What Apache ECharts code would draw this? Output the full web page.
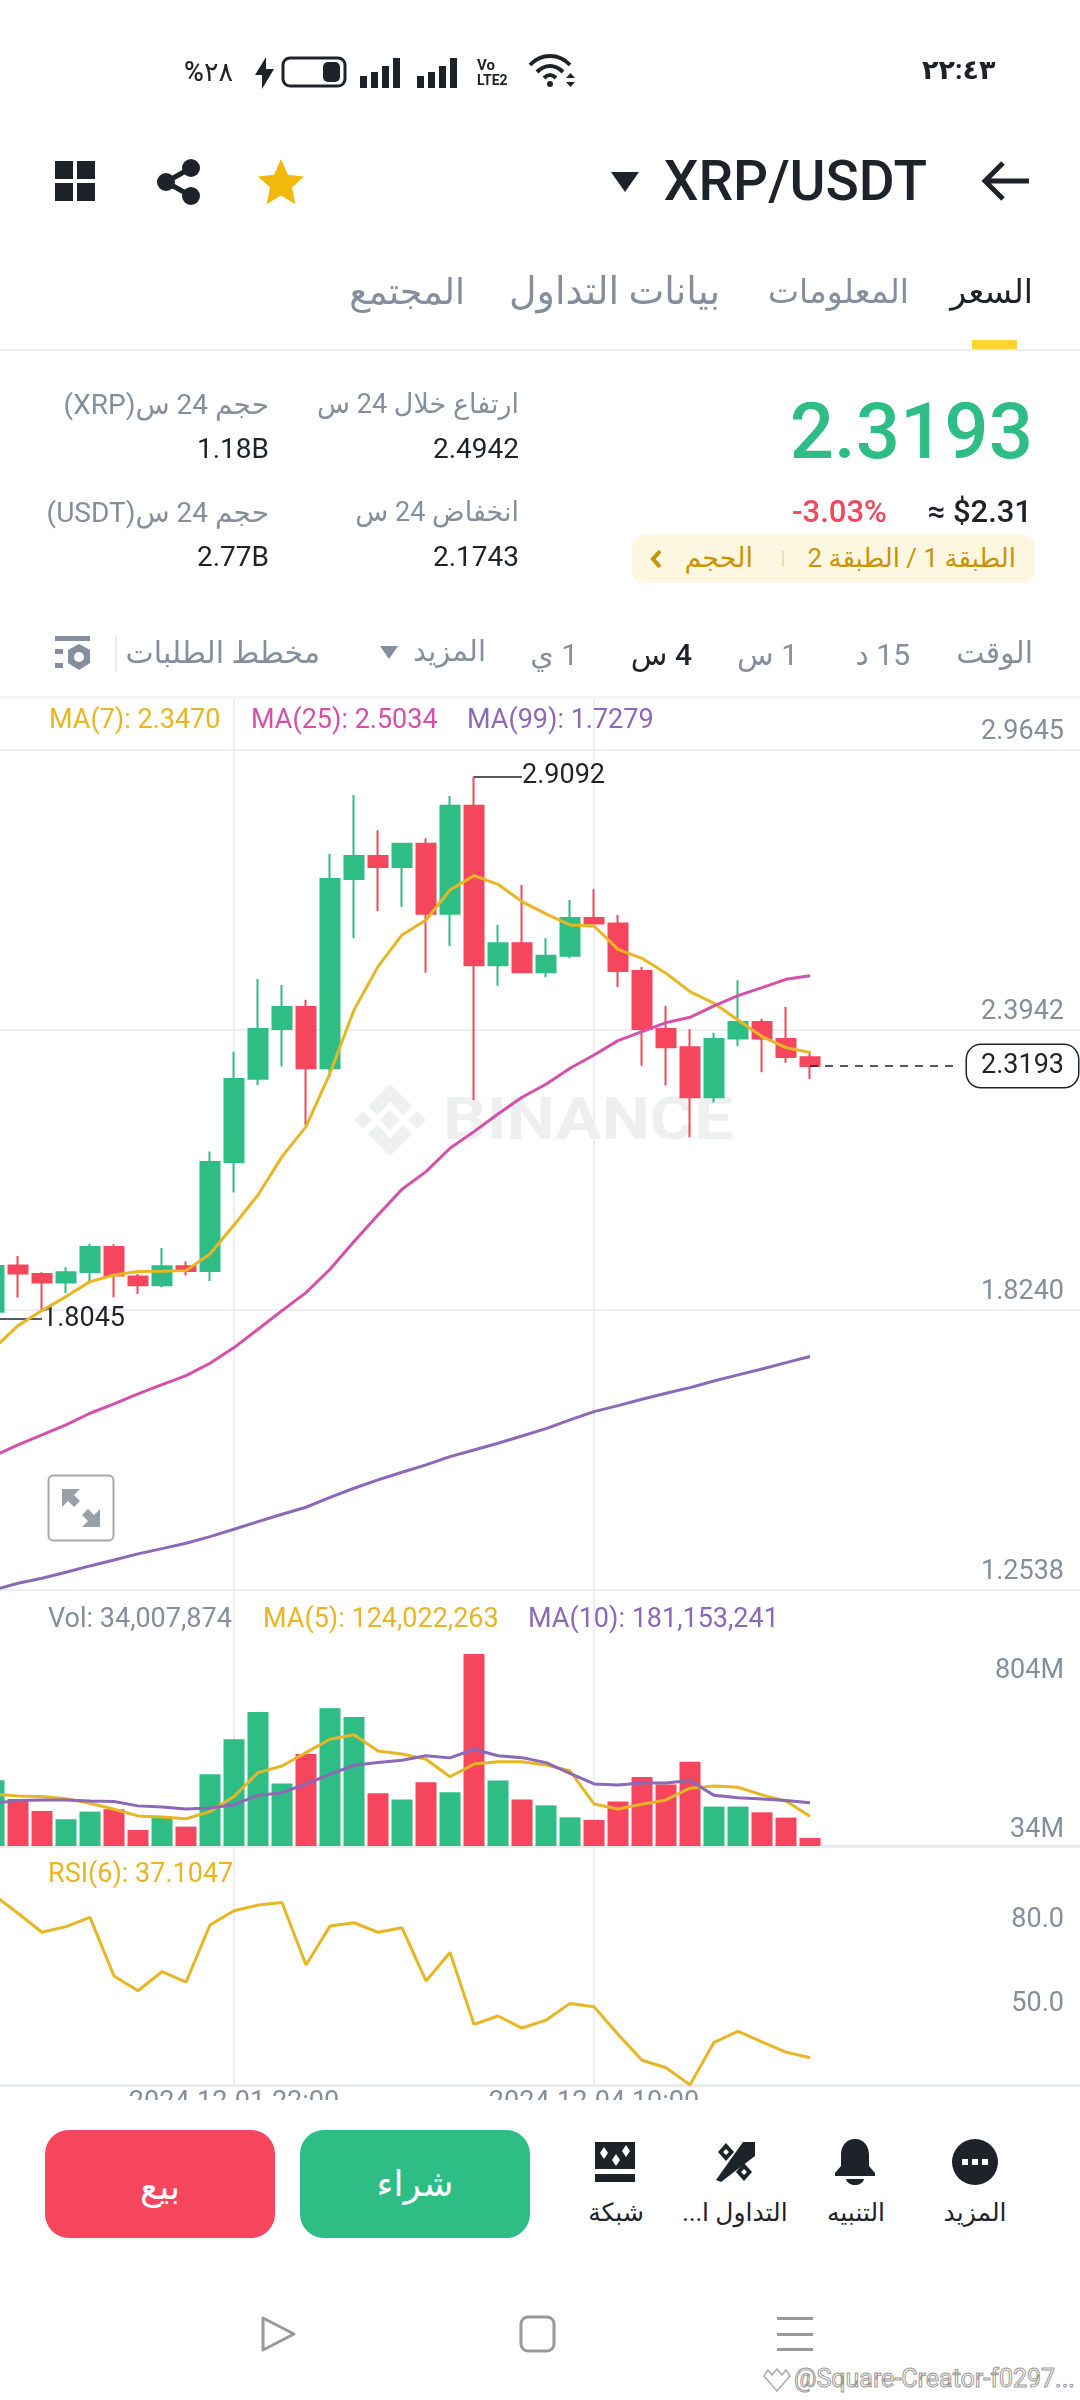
<!DOCTYPE html>
<html lang="ar">
<head>
<meta charset="utf-8">
<title>XRP/USDT</title>
<script src="https://cdn.jsdelivr.net/npm/echarts@6/dist/echarts.min.js"></script>
<style>
html,body{margin:0;padding:0;background:#fff;}
#app{position:relative;width:1080px;height:2400px;overflow:hidden;font-family:Roboto,"DejaVu Sans",sans-serif;color:#1E2329;}
#chart{position:absolute;left:0;top:0;width:1080px;height:2400px;}
.t{position:absolute;transform:translateY(-50%);white-space:nowrap;line-height:1.3;}
.c{transform:translate(-50%,-50%);}
.g{color:#848E9C;}
.r{direction:rtl;}
.box{position:absolute;}
svg{position:absolute;display:block;}
</style>
</head>
<body>
<div id="app">
<div id="chart"></div>

<!-- 状态栏 -->
<bdo dir="ltr" class="t" style="left:184px;top:73px;font-size:27px;font-weight:500;">%٢٨</bdo>
<svg style="left:252px;top:57px" width="24" height="32" viewBox="0 0 24 32"><path d="M14 0v12h8L10 32V18H3z" fill="#1E2329"/></svg>
<svg style="left:280px;top:55px" width="68" height="34" viewBox="0 0 68 34"><rect x="3" y="3" width="62" height="28" rx="7" fill="none" stroke="#1E2329" stroke-width="3"/><rect x="43" y="7" width="17" height="20" rx="5" fill="#1E2329"/></svg>
<svg style="left:360px;top:58px" width="104" height="30" viewBox="0 0 104 30" fill="#1E2329"><rect x="0" y="18" width="7" height="12"/><rect x="11" y="14" width="7" height="16"/><rect x="22" y="8" width="7" height="22"/><rect x="33" y="0" width="7" height="30"/><rect x="57" y="18" width="7" height="12"/><rect x="68" y="14" width="7" height="16"/><rect x="79" y="8" width="7" height="22"/><rect x="90" y="0" width="7" height="30"/></svg>
<div class="t" style="left:477px;top:66px;font-size:15px;font-weight:700;">Vo</div>
<div class="t" style="left:477px;top:80px;font-size:14px;font-weight:700;">LTE2</div>
<svg style="left:528px;top:53px" width="48" height="36" viewBox="0 0 48 36" fill="none" stroke="#1E2329" stroke-width="4"><path d="M2 12C13 0 31 0 42 12"/><path d="M9 19C17 11 27 11 35 19"/><path d="M16 25C20 21 24 21 28 25"/><circle cx="22" cy="31" r="3" fill="#1E2329" stroke="none"/><path d="M38 25h9l-4.500-5zM38 29h9l-4.500 5z" fill="#1E2329" stroke="none"/></svg>
<bdo dir="ltr" class="t" style="left:922px;top:71px;font-size:27px;font-weight:700;">٢٢:٤٣</bdo>

<!-- 顶部导航 -->
<svg style="left:981px;top:160px" width="50" height="42" viewBox="0 0 50 42" fill="none" stroke="#1E2329" stroke-width="5"><path d="M48 21H4M22 3L4 21l18 18"/></svg>
<div class="t" style="right:153px;top:182px;font-size:55px;font-weight:500;">XRP/USDT</div>
<svg style="left:611px;top:172px" width="28" height="20" viewBox="0 0 28 20"><path d="M0 0h28L14 20z" fill="#1E2329"/></svg>
<svg style="left:258px;top:159px" width="46" height="46" viewBox="0 0 24 24"><path d="M12 0l3.600 8.200 8.400.9-6.300 5.800 1.800 8.700L12 19.100 4.500 23.600l1.800-8.700L0 9.100l8.400-.9z" fill="#F0B90B"/></svg>
<svg style="left:156px;top:159px" width="46" height="46" viewBox="0 0 46 46" fill="#1E2329"><circle cx="35" cy="9" r="9"/><circle cx="35" cy="37" r="9"/><circle cx="10" cy="23" r="9"/><path d="M10 23L35 9M10 23l25 14" stroke="#1E2329" stroke-width="5"/></svg>
<svg style="left:55px;top:161px" width="40" height="40" viewBox="0 0 40 40" fill="#1E2329"><rect width="18" height="18"/><rect x="22" width="18" height="18"/><rect y="22" width="18" height="18"/><rect x="22" y="22" width="18" height="18"/></svg>

<!-- 标签页 -->
<div class="t r" style="right:47px;top:292px;font-size:33px;">السعر</div>
<div class="t r g" style="right:171px;top:292px;font-size:33px;">المعلومات</div>
<div class="t r g" style="right:360px;top:292px;font-size:38px;">بيانات التداول</div>
<div class="t r g" style="right:615px;top:292px;font-size:36px;">المجتمع</div>
<div class="box" style="left:972px;top:340px;width:45px;height:9px;background:#FCD535;"></div>
<div class="box" style="left:0;top:349px;width:1080px;height:2px;background:#EAECEF;"></div>

<!-- 行情 -->
<div class="t" style="right:47px;top:432px;font-size:78px;font-weight:500;color:#2EBD85;">2.3193</div>
<div class="t" style="left:792px;top:512px;font-size:31px;font-weight:500;color:#F6465D;">-3.03%</div>
<div class="t" style="right:48px;top:512px;font-size:31px;font-weight:500;">≈ $2.31</div>
<div class="box" style="left:632px;top:535px;width:403px;height:48px;border-radius:12px;background:#FDF6E0;"></div>
<div class="t r" style="right:64px;top:559px;font-size:26px;color:#C99400;">الطبقة 1 / الطبقة 2</div>
<div class="box" style="left:782px;top:551px;width:2px;height:16px;background:#EADFB8;"></div>
<div class="t r" style="right:327px;top:559px;font-size:27px;color:#C99400;">الحجم</div>
<svg style="left:650px;top:549px" width="12" height="20" viewBox="0 0 12 20" fill="none" stroke="#C99400" stroke-width="4"><path d="M10 2L3 10l7 8"/></svg>

<div class="t r g" style="right:561px;top:405px;font-size:27px;">ارتفاع خلال 24 س</div>
<div class="t" style="right:561px;top:449px;font-size:28px;">2.4942</div>
<div class="t r g" style="right:561px;top:513px;font-size:27px;">انخفاض 24 س</div>
<div class="t" style="right:561px;top:557px;font-size:28px;">2.1743</div>
<div class="t r g" style="right:811px;top:405px;font-size:28px;">حجم 24 س(XRP)</div>
<div class="t" style="right:811px;top:449px;font-size:28px;">1.18B</div>
<div class="t r g" style="right:811px;top:513px;font-size:28px;">حجم 24 س(USDT)</div>
<div class="t" style="right:811px;top:557px;font-size:28px;">2.77B</div>

<!-- 周期 -->
<div class="t r g" style="right:47px;top:652px;font-size:30px;">الوقت</div>
<div class="t r g" style="right:170px;top:654px;font-size:30px;">15 د</div>
<div class="t r g" style="right:282px;top:654px;font-size:30px;">1 س</div>
<div class="t r" style="right:388px;top:654px;font-size:30px;font-weight:500;">4 س</div>
<div class="t r g" style="right:502px;top:654px;font-size:30px;">1 ي</div>
<div class="t r g" style="right:594px;top:652px;font-size:29px;">المزيد</div>
<svg style="left:380px;top:646px" width="18" height="13" viewBox="0 0 18 13"><path d="M0 0h18L9 13z" fill="#848E9C"/></svg>
<div class="t r g" style="right:760px;top:652px;font-size:30px;">مخطط الطلبات</div>
<div class="box" style="left:115px;top:636px;width:2px;height:36px;background:#EAECEF;"></div>
<svg style="left:54px;top:635px" width="38" height="38" viewBox="0 0 38 38" fill="#848E9C"><rect x="1" y="1" width="35" height="5"/><rect x="1" y="14" width="8" height="5"/><rect x="1" y="28" width="8" height="5"/><path d="M25 9l11 6v13l-11 7-11-7V15z"/><circle cx="25" cy="22" r="5" fill="#fff"/></svg>
<div class="box" style="left:0;top:696px;width:1080px;height:3px;background:#F5F5F5;"></div>

<!-- 放大按钮 -->
<svg style="left:47px;top:1474px" width="68" height="68" viewBox="0 0 68 68"><rect x="1.500" y="1.500" width="65" height="65" rx="5" fill="#fff" stroke="#A3A9B2" stroke-width="2"/><path d="M15 15h18l-6 6 6 6-6 6-6-6-6 6zM53 53H35l6-6-6-6 6-6 6 6 6-6z" fill="#9AA0A8"/></svg>

<!-- 底部 -->
<div class="box" style="left:0;top:2100px;width:1080px;height:300px;background:#fff;"></div>
<div class="box" style="left:45px;top:2130px;width:230px;height:108px;border-radius:24px;background:#F6465D;"></div>
<div class="t c r" style="left:160px;top:2187px;font-size:36px;font-weight:500;color:#fff;">بيع</div>
<div class="box" style="left:300px;top:2130px;width:230px;height:108px;border-radius:24px;background:#2EBD85;"></div>
<div class="t c r" style="left:415px;top:2184px;font-size:36px;font-weight:500;color:#fff;">شراء</div>

<svg style="left:595px;top:2142px" width="40" height="40" viewBox="0 0 40 40" fill="#1E2329"><path d="M0 0h40v27H0z"/><rect y="32" width="40" height="8"/><path d="M9 5l4 6-4 6-4-6zM21 12l4 6-4 6-4-6zM31 3l4 6-4 6-4-6z" fill="#fff"/></svg>
<svg style="left:715px;top:2142px" width="40" height="40" viewBox="0 0 40 40" fill="#1E2329"><path d="M40 0v14L6 40l-5-2 27-38z"/><path d="M11 1l8 9-8 9-8-9zM29 21l8 9-8 9-8-9z"/><path d="M11 7l3 3-3 3-3-3zM29 27l3 3-3 3-3-3z" fill="#fff"/></svg>
<svg style="left:835px;top:2139px" width="40" height="46" viewBox="0 0 40 46" fill="#1E2329"><path d="M20 0c9 0 14 7 14 16v11l6 7v3H0v-3l6-7V16C6 7 11 0 20 0z"/><path d="M11 40h18c-1 4-5 6-9 6s-8-2-9-6z"/></svg>
<svg style="left:952px;top:2139px" width="46" height="46" viewBox="0 0 46 46"><circle cx="23" cy="23" r="23" fill="#1E2329"/><rect x="10" y="20" width="6" height="6" fill="#fff"/><rect x="20" y="20" width="6" height="6" fill="#fff"/><rect x="30" y="20" width="6" height="6" fill="#fff"/></svg>
<div class="t c r" style="left:975px;top:2213px;font-size:25px;">المزيد</div>
<div class="t c r" style="left:856px;top:2213px;font-size:25px;">التنبيه</div>
<div class="t c r" style="left:735px;top:2213px;font-size:25px;">التداول ا...</div>
<div class="t c r" style="left:616px;top:2213px;font-size:25px;">شبكة</div>

<svg style="left:260px;top:2315px" width="38" height="38" viewBox="0 0 38 38" fill="none" stroke="#999" stroke-width="3" stroke-linejoin="round"><path d="M3 3l31 16L3 35z"/></svg>
<svg style="left:519px;top:2315px" width="37" height="38" viewBox="0 0 37 38" fill="none" stroke="#999" stroke-width="3"><rect x="2" y="2" width="33" height="34" rx="7"/></svg>
<svg style="left:777px;top:2315px" width="36" height="38" viewBox="0 0 36 38" fill="#999"><rect y="2" width="36" height="3"/><rect y="18" width="36" height="3"/><rect y="33" width="36" height="3"/></svg>
<svg style="left:763px;top:2368px" width="28" height="24" viewBox="0 0 28 24" fill="none" stroke="#aaa" stroke-width="1.500"><path d="M1 8l4-6 4 5 5-6 5 6 4-5 4 6-13 15z"/></svg>
<div class="t" style="left:794px;top:2379px;font-size:25px;color:#fff;-webkit-text-stroke:1px #9a9a9a;">@Square-Creator-f0297...</div>
</div>

<script>
// 时间轴：4 小时一根，右侧留空
var timeLabels = ['','','','','','','','','','','2024-12-01 22:00','','','','','','','','','','','','','','','2024-12-04 10:00','','','','','','','','','','','','','','','','','','','',''];
// K 线
var opens = [1.8193,1.9130,1.8960,1.8784,1.9001,1.9510,1.8906,1.8730,1.9117,1.9022,2.1241,2.2938,2.3950,2.4398,2.3149,2.7004,2.7473,2.7249,2.7724,2.6298,2.8498,2.5246,2.5694,2.5104,2.5443,2.6210,2.6095,2.5131,2.3950,2.3576,2.2558,2.3753,2.4092,2.3746,2.3373];
var closes = [1.9123,1.8967,1.8784,1.8995,1.9510,1.8927,1.8730,1.9117,1.9022,2.1241,2.2932,2.3950,2.4398,2.3149,2.7004,2.7473,2.7249,2.7724,2.6298,2.8498,2.5246,2.5694,2.5104,2.5443,2.6210,2.6095,2.5131,2.3950,2.3576,2.2558,2.3746,2.4092,2.3753,2.3380,2.3193];
var lows = [1.8045,1.8479,1.8214,1.8567,1.8784,1.8485,1.8553,1.8689,1.8927,1.8818,2.0617,2.2809,2.3183,2.1995,2.2979,2.5796,2.6353,2.6441,2.5097,2.5640,2.2504,2.4832,2.5090,2.5002,2.5389,2.6081,2.4805,2.3203,2.2796,2.1743,2.2450,2.3604,2.3067,2.3264,2.2932];
var highs = [1.9191,1.9327,1.8995,1.9096,1.9572,1.9565,1.8960,1.9490,1.9212,2.1452,2.3488,2.4968,2.4846,2.4547,2.7514,2.8715,2.7995,2.7744,2.7833,2.8695,2.9092,2.6068,2.6882,2.5796,2.6577,2.6794,2.6271,2.5212,2.4418,2.3943,2.3875,2.4942,2.4160,2.4398,2.3502];
var ma7 = [1.7447,1.7908,1.8214,1.8499,1.8804,1.8940,1.9008,1.9015,1.9028,1.9368,1.9958,2.0569,2.1350,2.1961,2.3047,2.4337,2.5219,2.5864,2.6170,2.6780,2.7072,2.6896,2.6543,2.6292,2.6068,2.6047,2.5572,2.5389,2.5083,2.4710,2.4473,2.4133,2.3794,2.3570,2.3470];
var ma25 = [1.5254,1.5478,1.5682,1.5886,1.6123,1.6313,1.6517,1.6707,1.6890,1.7141,1.7460,1.7834,1.8214,1.8580,1.9056,1.9619,2.0162,2.0685,2.1044,2.1520,2.1859,2.2219,2.2558,2.2823,2.3149,2.3420,2.3712,2.3895,2.4079,2.4187,2.4418,2.4629,2.4791,2.4961,2.5034];
var ma99 = [1.2525,1.2661,1.2763,1.2885,1.3014,1.3136,1.3259,1.3367,1.3476,1.3611,1.3761,1.3917,1.4066,1.4209,1.4412,1.4596,1.4765,1.4922,1.5071,1.5241,1.5376,1.5512,1.5661,1.5811,1.5987,1.6157,1.6279,1.6408,1.6530,1.6646,1.6781,1.6904,1.7026,1.7155,1.7279];
// 成交量（百万）
var volumes = [275,197,147,112,144,154,67,123,81,300,447,561,262,385,577,540,221,195,267,225,804,274,195,170,120,109,186,289,258,353,165,165,141,119,34];
var volMa5 = [218,209,207,198,179,154,126,121,114,144,207,307,335,391,447,466,398,385,363,290,343,353,353,339,315,176,155,175,193,242,251,246,214,188,124];
var volMa10 = [179,190,193,193,188,186,168,163,155,159,173,212,223,260,300,338,350,359,378,369,405,378,370,349,304,260,255,264,264,274,212,202,197,191,181];
var rsi6 = [95.2,88.7,81.9,83.9,87.2,66.3,61.0,67.8,64.1,84.5,89.6,91.6,92.5,70.2,84.1,85.3,81.9,83.5,64.5,74.7,49.0,52.0,47.7,50.5,56.5,55.3,45.5,36.2,33.5,27.4,42.6,46.5,42.8,39.1,37.1047];
// 坐标轴刻度
var priceTicks = [1.2538,1.8240,2.3942,2.9645];
var volBottomTicks = [34];
var volTopTicks = [804];
var rsiTicks = [50,80];

var GREEN = '#2EBD85', RED = '#F6465D', YELLOW = '#E8B624', PINK = '#D64FA9', PURPLE = '#8B68B8';
var GRID_LINE = '#ECEEF4', AXIS_TEXT = '#848E9C', DARK = '#1E2329';
var LEFT = -18, CHART_W = 1104;
var lastClose = closes[closes.length - 1];

var candleData = opens.map(function (o, i) {
    return [o, closes[i], lows[i], highs[i]];
});

function isGridIndex(i) {
    return i === 10 || i === 25;
}

// 三个面板共用的 x 轴
function makeXAxis(gridIndex, showLine, showLabel) {
    return {
        type: 'category',
        gridIndex: gridIndex,
        data: timeLabels,
        axisLine: {show: showLine, onZero: false, lineStyle: {color: '#E9EBF1', width: 3}},
        axisTick: {show: false},
        axisLabel: {
            show: showLabel, interval: isGridIndex, margin: 5,
            color: AXIS_TEXT, fontSize: 27, fontFamily: 'Roboto', hideOverlap: false
        },
        splitLine: {show: true, interval: isGridIndex, alignWithLabel: true, lineStyle: {color: GRID_LINE, width: 2}}
    };
}

function makeYAxis(gridIndex, min, max, ticks, label, fmt, withLines) {
    return {
        type: 'value',
        gridIndex: gridIndex,
        position: 'right',
        min: min,
        max: max,
        axisLine: {show: false},
        axisTick: {show: false, customValues: ticks},
        axisLabel: Object.assign({
            inside: true, margin: 22, customValues: ticks,
            color: AXIS_TEXT, fontSize: 27, fontFamily: 'Roboto', formatter: fmt
        }, label),
        splitLine: {show: withLines, lineStyle: {color: GRID_LINE, width: 2}}
    };
}

function maLine(name, data, color, xi, yi) {
    return {
        name: name, type: 'line', data: data, xAxisIndex: xi, yAxisIndex: yi,
        symbol: 'none', smooth: false, z: 5, lineStyle: {color: color, width: 3}
    };
}

// 最高/最低/现价的引线
function priceMark(fromIdx, toIdx, price, label, dashed) {
    var lbl = {
        show: true, position: 'end', distance: dashed ? 13 : 0, formatter: label,
        color: DARK, fontSize: 27, fontFamily: 'Roboto'
    };
    if (dashed) {
        lbl.backgroundColor = '#fff';
        lbl.borderColor = DARK;
        lbl.borderWidth = 1.5;
        lbl.borderRadius = 14;
        lbl.padding = [8, 14, 7, 14];
    }
    return [
        {coord: [fromIdx, price], label: lbl,
            lineStyle: {color: DARK, width: 1.5, type: dashed ? [8, 7] : 'solid'}},
        {coord: [toIdx, price]}
    ];
}

function legendText(x, y, text, color, size) {
    return {
        type: 'text', x: x, y: y, silent: true, z: 6,
        style: {text: text, fill: color, font: size + 'px Roboto', verticalAlign: 'middle'}
    };
}

// 水印
var logoCx = 390, logoCy = 1120, WM = '#EEF0F0';
function wmPoly(points) {
    return {
        type: 'polygon', x: logoCx, y: logoCy, silent: true, z: 1,
        shape: {points: points}, style: {fill: WM}
    };
}

function priceFmt(v) { return v.toFixed(4); }
function volFmt(v) { return v + 'M'; }
function rsiFmt(v) { return v.toFixed(1); }

var option = {
    animation: false,
    backgroundColor: 'transparent',
    grid: [
        {left: LEFT, width: CHART_W, top: 698, height: 902, outerBoundsMode: 'none'},
        {left: LEFT, width: CHART_W, top: 1600, height: 246, outerBoundsMode: 'none'},
        {left: LEFT, width: CHART_W, top: 1846, height: 239, outerBoundsMode: 'none'}
    ],
    xAxis: [makeXAxis(0, false, false), makeXAxis(1, true, false), makeXAxis(2, true, true)],
    yAxis: [
        makeYAxis(0, 1.2320, 3.0690, priceTicks, {verticalAlign: 'bottom', padding: [0, 0, 4, 0]}, priceFmt, true),
        makeYAxis(1, 0, 1030, volBottomTicks, {verticalAlign: 'bottom', lineHeight: 16}, volFmt, false),
        makeYAxis(1, 0, 1030, volTopTicks, {verticalAlign: 'top', padding: [4, 0, 0, 0]}, volFmt, false),
        makeYAxis(2, 27.36, 112.7, rsiTicks, {verticalAlign: 'bottom', padding: [0, 0, 4, 0]}, rsiFmt, false)
    ],
    series: [
        {
            name: 'K', type: 'candlestick', data: candleData, xAxisIndex: 0, yAxisIndex: 0,
            barWidth: 19, z: 3,
            itemStyle: {color: GREEN, color0: RED, borderColor: GREEN, borderColor0: RED, borderWidth: 2},
            markLine: {
                silent: true, symbol: 'none', animation: false,
                data: [
                    priceMark(20, 22, 2.9092, '2.9092', false),
                    priceMark(0, 2, 1.8045, '1.8045', false),
                    priceMark(34, 40, lastClose, lastClose.toFixed(4), true)
                ]
            }
        },
        maLine('MA7', ma7, YELLOW, 0, 0),
        maLine('MA25', ma25, PINK, 0, 0),
        maLine('MA99', ma99, PURPLE, 0, 0),
        {
            name: 'Vol', type: 'bar', data: volumes, xAxisIndex: 1, yAxisIndex: 1, barWidth: 21, z: 3,
            itemStyle: {
                color: function (p) {
                    return closes[p.dataIndex] >= opens[p.dataIndex] ? GREEN : RED;
                }
            }
        },
        maLine('VolMA5', volMa5, YELLOW, 1, 1),
        maLine('VolMA10', volMa10, PURPLE, 1, 1),
        maLine('RSI6', rsi6, YELLOW, 2, 3)
    ],
    graphic: [
        wmPoly([[0, -36], [22, -14], [13, -5], [0, -18], [-13, -5], [-22, -14]]),
        wmPoly([[0, 36], [22, 14], [13, 5], [0, 18], [-13, 5], [-22, 14]]),
        wmPoly([[0, -10], [10, 0], [0, 10], [-10, 0]]),
        wmPoly([[-36, 0], [-27, -9], [-18, 0], [-27, 9]]),
        wmPoly([[36, 0], [27, -9], [18, 0], [27, 9]]),
        {
            type: 'text', x: 443, y: 1124, scaleX: 1.14, silent: true, z: 1,
            style: {text: 'BINANCE', fill: WM, font: 'bold 60px Roboto', verticalAlign: 'middle'}
        },
        legendText(49, 721, 'MA(7): 2.3470', YELLOW, 27),
        legendText(251, 721, 'MA(25): 2.5034', PINK, 27),
        legendText(467, 721, 'MA(99): 1.7279', PURPLE, 27),
        legendText(48, 1620, 'Vol: 34,007,874', AXIS_TEXT, 27),
        legendText(263, 1620, 'MA(5): 124,022,263', YELLOW, 27),
        legendText(528, 1620, 'MA(10): 181,153,241', PURPLE, 27),
        legendText(48, 1875, 'RSI(6): 37.1047', YELLOW, 27)
    ]
};

var chart = echarts.init(document.getElementById('chart'));
chart.setOption(option);
</script>
</body>
</html>
